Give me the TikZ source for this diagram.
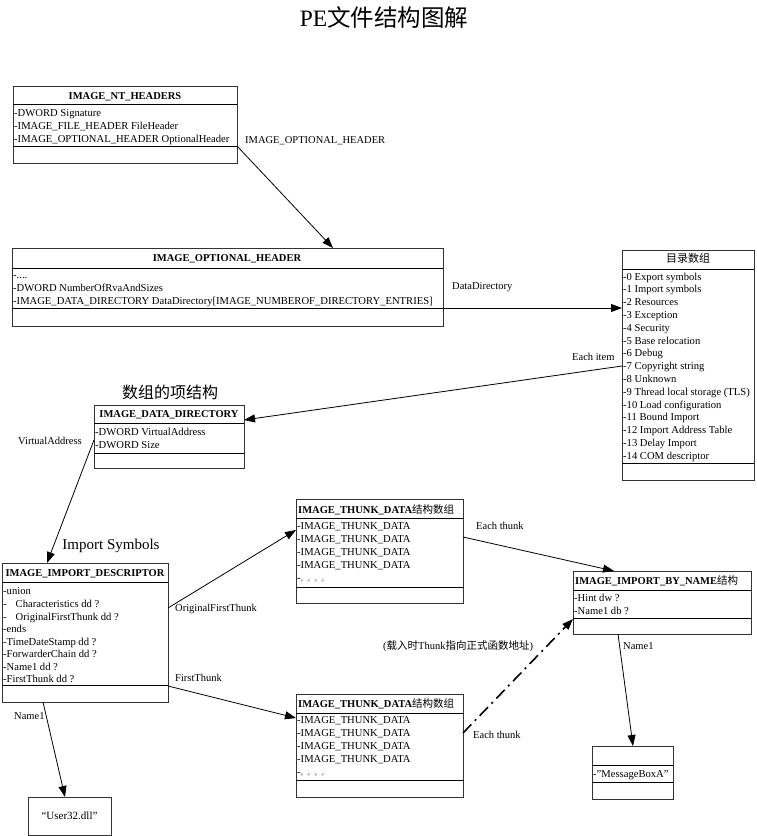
\documentclass[tikz,border=0pt]{standalone}
\usepackage{fontspec}
\setmainfont{Liberation Serif}
\newfontfamily\cjk{Noto Sans CJK SC}
\usetikzlibrary{arrows.meta}
\begin{document}
\begin{tikzpicture}[x=1pt,y=-1pt,
 box/.style={draw=black!80, line width=0.9pt, inner sep=0pt, outer sep=0pt, anchor=north west},
 sepline/.style={draw=black, line width=0.8pt},
 hdr/.style={font=\fontsize{10.5}{12}\selectfont\bfseries, inner sep=0pt, anchor=base},
 item/.style={font=\fontsize{10.6}{13}\selectfont, inner sep=0pt, anchor=base west},
 lbl/.style={font=\fontsize{10.5}{12}\selectfont, inner sep=0pt, anchor=west},
 arr/.style={draw=black, line width=0.8pt, -{Triangle[length=11pt,width=8pt]}},
]
\useasboundingbox (0,0) rectangle (757,836);
\fill[white] (0,0) rectangle (757,836);

% title
\node[font=\fontsize{23.5}{26}\selectfont, inner sep=0pt] (title) at (384,18) {PE{\cjk 文件结构图解}};

% IMAGE_NT_HEADERS
\node[box, minimum width=224pt, minimum height=77pt] (nt) at (13,86) {};
\draw[sepline] (13,104) -- (237,104);
\draw[sepline] (13,146) -- (237,146);
\node[hdr] (nth) at (125,99) {IMAGE\_NT\_HEADERS};
\node[item] (nt1) at (14,116) {-DWORD Signature};
\node[item] (nt2) at (14,129) {-IMAGE\_FILE\_HEADER FileHeader};
\node[item] (nt3) at (14,142) {-IMAGE\_OPTIONAL\_HEADER OptionalHeader};

% IMAGE_OPTIONAL_HEADER
\node[box, minimum width=431pt, minimum height=78pt] (opt) at (12,248) {};
\draw[sepline] (12,268) -- (443,268);
\draw[sepline] (12,308) -- (443,308);
\node[hdr] (opth) at (227,261) {IMAGE\_OPTIONAL\_HEADER};
\node[item] (opt1) at (13,278) {-....};
\node[item] (opt2) at (13,291) {-DWORD NumberOfRvaAndSizes};
\node[item] (opt3) at (13,304) {-IMAGE\_DATA\_DIRECTORY DataDirectory[IMAGE\_NUMBEROF\_DIRECTORY\_ENTRIES]};

% directory array
\node[box, minimum width=132pt, minimum height=230pt] (dir) at (622,250) {};
\draw[sepline] (622,269) -- (754,269);
\draw[sepline] (622,463) -- (754,463);
\node[font=\fontsize{11}{13}\selectfont\cjk, inner sep=0pt] (dirh) at (688,258.5) {目录数组};
\foreach \t [count=\i from 0] in {Export symbols,Import symbols,Resources,Exception,Security,Base relocation,Debug,Copyright string,Unknown,Thread local storage (TLS),Load configuration,Bound Import,Import Address Table,Delay Import,COM descriptor}
  \node[item] (dir\i) at (623,{280+12.8*\i}) {-\i\ \t};

% IMAGE_DATA_DIRECTORY
\node[font=\fontsize{16}{18}\selectfont\cjk, inner sep=0pt] (ddt) at (170,392) {数组的项结构};
\node[box, minimum width=150pt, minimum height=63pt] (dd) at (94,405) {};
\draw[sepline] (94,423) -- (244,423);
\draw[sepline] (94,453) -- (244,453);
\node[hdr] (ddh) at (169,417) {IMAGE\_DATA\_DIRECTORY};
\node[item] (dd1) at (95,435) {-DWORD VirtualAddress};
\node[item] (dd2) at (95,448) {-DWORD Size};

% IMAGE_IMPORT_DESCRIPTOR
\node[font=\fontsize{15}{18}\selectfont, inner sep=0pt] (impt) at (111,546) {Import Symbols};
\node[box, minimum width=166pt, minimum height=139pt] (imp) at (2,563) {};
\draw[sepline] (2,582) -- (168,582);
\draw[sepline] (2,685) -- (168,685);
\node[hdr] (imph) at (85,576) {IMAGE\_IMPORT\_DESCRIPTOR};
\node[item] (imp1) at (3,594) {-union};
\node[item] (imp2) at (3,607) {-\hspace{9pt}Characteristics dd ?};
\node[item] (imp3) at (3,620) {-\hspace{9pt}OriginalFirstThunk dd ?};
\node[item] (imp4) at (3,632) {-ends};
\node[item] (imp5) at (3,645) {-TimeDateStamp dd ?};
\node[item] (imp6) at (3,657) {-ForwarderChain dd ?};
\node[item] (imp7) at (3,670) {-Name1 dd ?};
\node[item] (imp8) at (3,682) {-FirstThunk dd ?};

% IMAGE_THUNK_DATA array 1
\node[box, minimum width=167pt, minimum height=104pt] (th1) at (296,499) {};
\draw[sepline] (296,518) -- (463,518);
\draw[sepline] (296,587) -- (463,587);
\node[hdr, anchor=base west] (th1h) at (298,513) {IMAGE\_THUNK\_DATA{\cjk\mdseries 结构数组}};
\foreach \i in {1,...,4}
  \node[item] (th1i\i) at (297,{516+13*\i}) {-IMAGE\_THUNK\_DATA};
\node[item] (th1d) at (297,581) {-{\cjk\fontsize{6}{7}\selectfont 。\,。\,。\,。}};

% IMAGE_THUNK_DATA array 2
\node[box, minimum width=167pt, minimum height=103pt] (th2) at (296,694) {};
\draw[sepline] (296,713) -- (463,713);
\draw[sepline] (296,780) -- (463,780);
\node[hdr, anchor=base west] (th2h) at (298,707) {IMAGE\_THUNK\_DATA{\cjk\mdseries 结构数组}};
\foreach \i in {1,...,4}
  \node[item] (th2i\i) at (297,{710+13*\i}) {-IMAGE\_THUNK\_DATA};
\node[item] (th2d) at (297,775) {-{\cjk\fontsize{6}{7}\selectfont 。\,。\,。\,。}};

% IMAGE_IMPORT_BY_NAME
\node[box, minimum width=178pt, minimum height=63pt] (bn) at (573,571) {};
\draw[sepline] (573,590) -- (751,590);
\draw[sepline] (573,618) -- (751,618);
\node[hdr, anchor=base west] (bnh) at (575,584) {IMAGE\_IMPORT\_BY\_NAME{\cjk\mdseries 结构}};
\node[item] (bn1) at (574,601) {-Hint dw ?};
\node[item] (bn2) at (574,614) {-Name1 db ?};

% MessageBoxA
\node[box, minimum width=81pt, minimum height=53pt] (mb) at (592,746) {};
\draw[sepline] (592,765) -- (673,765);
\draw[sepline] (592,782) -- (673,782);
\node[item] (mb1) at (593,777) {-\symbol{34}MessageBoxA\symbol{34}};

% User32.dll
\node[box, minimum width=83pt, minimum height=38pt] (us) at (28,797) {};
\node[font=\fontsize{11}{13}\selectfont, inner sep=0pt] (ust) at (69.5,816) {“User32.dll”};

% connectors
\draw[arr] ([yshift=-60pt]nt.north east) -- ([xshift=321pt]opt.north west);
\node[lbl] (l1) at (245,141) {IMAGE\_OPTIONAL\_HEADER};

\draw[arr] ([yshift=-60pt]opt.north east) -- ([yshift=-58pt]dir.north west);
\node[lbl] (l2) at (452,287) {DataDirectory};

\draw[arr] ([yshift=-116pt]dir.north west) -- ([yshift=-15pt]dd.north east);
\node[lbl] (l3) at (572,357) {Each item};

\draw[arr] ([yshift=-35pt]dd.north west) -- ([xshift=45pt]imp.north west);
\node[lbl] (l4) at (18,441) {VirtualAddress};

\draw[arr] ([yshift=-45pt]imp.north east) -- ([yshift=-31pt]th1.north west);
\node[lbl] (l5) at (175,609) {OriginalFirstThunk};

\draw[arr] ([yshift=-123pt]imp.north east) -- ([yshift=-24pt]th2.north west);
\node[lbl] (l6) at (175,678) {FirstThunk};

\draw[arr] ([yshift=-38pt]th1.north east) -- ([xshift=41pt]bn.north west);
\node[lbl] (l7) at (476,526) {Each thunk};

\draw[arr, line width=1.6pt, dash pattern=on 12pt off 5pt on 2pt off 5pt] ([yshift=-39pt]th2.north east) -- ([yshift=-48pt]bn.north west);
\node[lbl] (l8) at (473,735) {Each thunk};
\node[lbl] (l9) at (383,646) {({\cjk\fontsize{10.5}{12}\selectfont 载入时}Thunk{\cjk\fontsize{10.5}{12}\selectfont 指向正式函数地址})};

\draw[arr] ([xshift=45pt]bn.south west) -- ([xshift=41pt]mb.north west);
\node[lbl] (l10) at (623,646) {Name1};

\draw[arr] ([xshift=41pt]imp.south west) -- ([xshift=37pt]us.north west);
\node[lbl] (l11) at (14,716) {Name1};
\end{tikzpicture}
\end{document}
